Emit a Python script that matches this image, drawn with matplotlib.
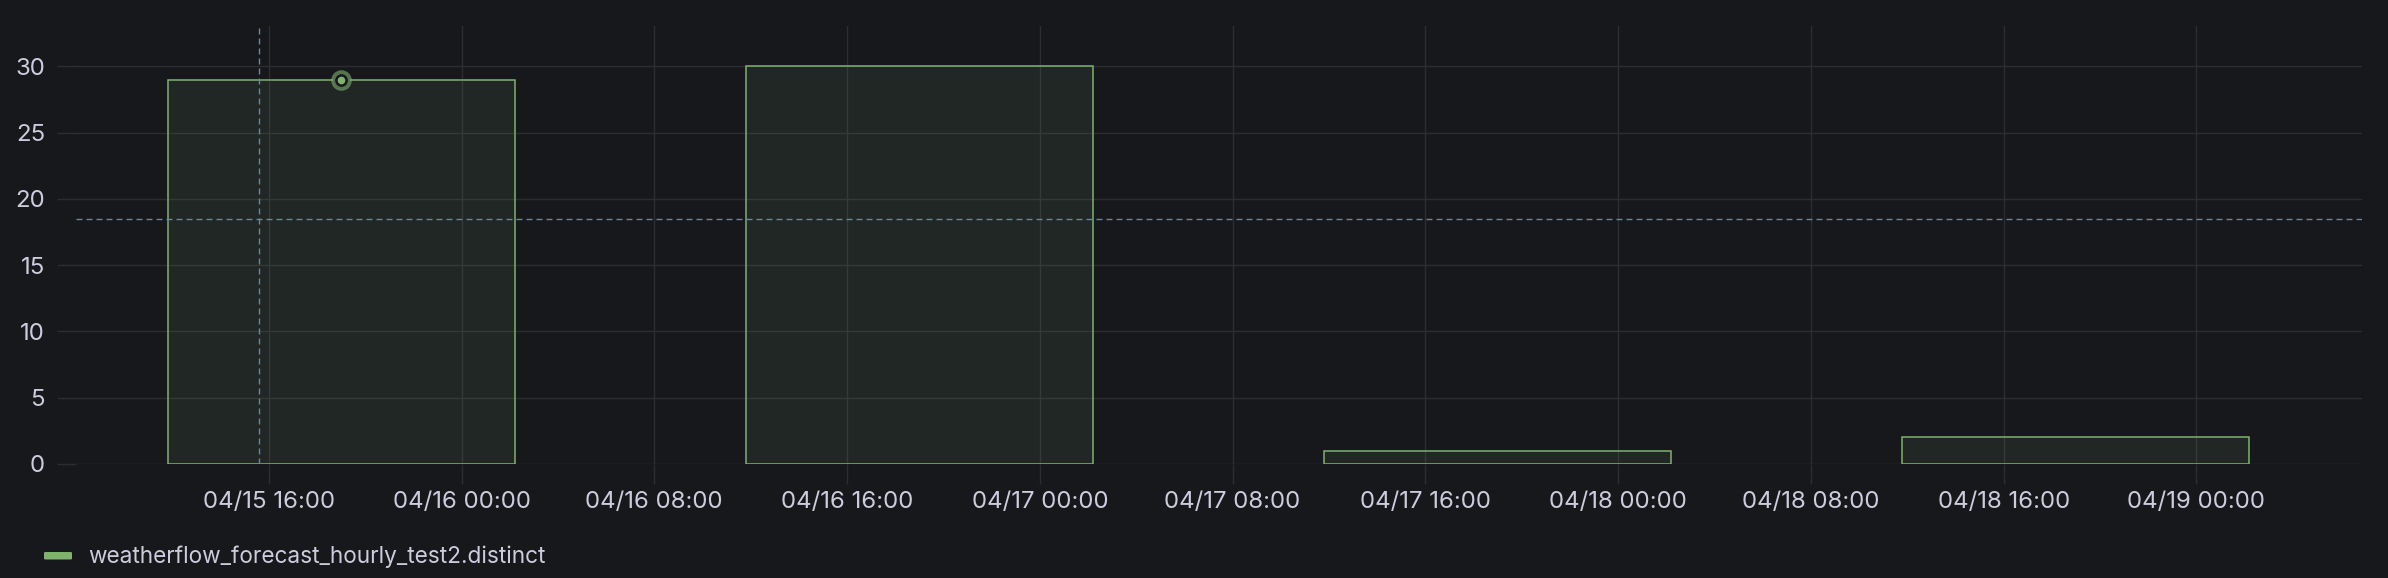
import matplotlib
matplotlib.use("Agg")
import matplotlib.pyplot as plt
import matplotlib.dates as mdates
import pandas as pd

# ---- data ----
bar_times = ["2024-04-15 19:00", "2024-04-16 19:00", "2024-04-17 19:00", "2024-04-18 19:00"]
bar_values = [29, 30, 1, 2]
series_name = "weatherflow_forecast_hourly_test2.distinct"
threshold = 18.5
hover_time = "2024-04-15 15:36"
hover_point_time = "2024-04-15 19:00"
hover_point_value = 29
x_start = "2024-04-15 08:00"
x_end = "2024-04-19 06:53"
y_ticks = [0, 5, 10, 15, 20, 25, 30]
x_ticks = ["2024-04-15 16:00", "2024-04-16 00:00", "2024-04-16 08:00", "2024-04-16 16:00",
           "2024-04-17 00:00", "2024-04-17 08:00", "2024-04-17 16:00", "2024-04-18 00:00",
           "2024-04-18 08:00", "2024-04-18 16:00", "2024-04-19 00:00"]

BG = "#17181c"
GRID = "#2b2d31"
TEXT = "#ccccdc"
GREEN = "#7eb26d"
DASH = "#6f8697"

plt.rcParams["font.family"] = ["Inter", "DejaVu Sans"]
DPI = 100
W, H = 2388, 578
fig = plt.figure(figsize=(W / DPI, H / DPI), dpi=DPI, facecolor=BG)
ax = fig.add_axes([76 / W, 1 - 464 / H, (2362.3 - 76) / W, (464 - 26) / H])
ax.set_facecolor(BG)

tb = pd.to_datetime(bar_times)
xs = mdates.date2num(tb)
ax.bar(xs, bar_values, width=0.6, align="center",
       facecolor=(126 / 255, 178 / 255, 109 / 255, 0.1), edgecolor=GREEN,
       linewidth=1.1, zorder=3)

ax.axhline(threshold, color=DASH, lw=1.0, linestyle=(0, (4.3, 2.9)), zorder=4)
ax.axvline(mdates.date2num(pd.Timestamp(hover_time)), color=DASH, lw=1.0,
           linestyle=(0, (4.3, 2.9)), zorder=4)

hx = mdates.date2num(pd.Timestamp(hover_point_time))
ax.plot([hx], [hover_point_value], marker="o", ms=12, mfc=BG, mec=(126 / 255, 178 / 255, 109 / 255, 0.6),
        mew=2.8, zorder=5, clip_on=False)
ax.plot([hx], [hover_point_value], marker="o", ms=5.5, mfc=GREEN, mec=GREEN, mew=0, zorder=6,
        clip_on=False)

ax.set_xlim(mdates.date2num(pd.Timestamp(x_start)), mdates.date2num(pd.Timestamp(x_end)))
ax.set_ylim(0, 33.04)

ax.set_yticks(y_ticks)
ax.set_yticklabels([str(v) for v in y_ticks])
xt = pd.to_datetime(x_ticks)
ax.set_xticks(mdates.date2num(xt))
ax.set_xticklabels([t.strftime("%m/%d %H:%M") for t in xt])

ax.grid(True, color=GRID, lw=1.0, zorder=0)
ax.set_axisbelow(True)
for s in ax.spines.values():
    s.set_visible(False)
ax.tick_params(axis="x", length=14.4, width=1.0, color=GRID, labelcolor=TEXT, labelsize=17.3, pad=5)
ax.tick_params(axis="y", length=13.7, width=1.0, color=GRID, labelcolor=TEXT, labelsize=17.3, pad=8.5)

# legend
fig.patches.append(matplotlib.patches.FancyBboxPatch(
    (44 / W, 1 - 559.5 / H), 28 / W, 7.5 / H, boxstyle="round,pad=0,rounding_size=0.001",
    transform=fig.transFigure, facecolor=GREEN, edgecolor="none"))
fig.text(88 / W, 1 - 557 / H, series_name, color=TEXT, fontsize=16.3, ha="left", va="center")

fig.savefig("out.png", dpi=DPI, facecolor=BG)
